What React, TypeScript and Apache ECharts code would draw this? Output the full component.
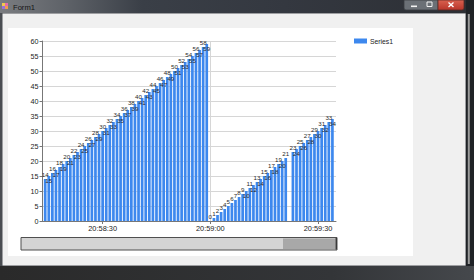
import React, { useEffect, useRef } from "react";
import * as echarts from "echarts";

// seconds after 20:58:00 for every bar
const seconds = [
  14, 15, 16, 17, 18, 19, 20, 21, 22, 23, 24, 25, 26, 27, 28, 29, 30, 31, 32, 33, 34, 35, 36,
  37, 38, 39, 40, 41, 42, 43, 44, 45, 46, 47, 48, 49, 50, 51, 52, 53, 54, 55, 56, 57, 58, 59,
  60, 61, 62, 63, 64, 65, 66, 67, 68, 69, 70, 71, 72, 73, 74, 75, 76, 77, 78, 79, 80, 81,
  83, 84, 85, 86, 87, 88, 89, 90, 91, 92, 93, 94,
];
const values = [
  14, 15, 16, 17, 18, 19, 20, 21, 22, 23, 24, 25, 26, 27, 28, 29, 30, 31, 32, 33, 34, 35, 36,
  37, 38, 39, 40, 41, 42, 43, 44, 45, 46, 47, 48, 49, 50, 51, 52, 53, 54, 55, 56, 57, 58, 59,
  0, 1, 2, 3, 4, 5, 6, 7, 8, 9, 10, 11, 12, 13, 14, 15, 16, 17, 18, 19, 20, 21,
  23, 24, 25, 26, 27, 28, 29, 30, 31, 32, 33, 34,
];
const xTickLabels = ["20:58:30", "20:59:00", "20:59:30"];
const seriesName = "Series1";
const xMinSec = 13.25;
const xMaxSec = 95;
const yMin = 0;
const yMax = 60;
const yInterval = 5;
const windowTitle = "Form1";

// x values are seconds after 20:58:00
const BASE_SEC = (20 * 60 + 58) * 60;
const pad = (n: number) => (n < 10 ? "0" + n : "" + n);
const toSec = (s: string) => {
  const [h, m, sec] = s.split(":").map(Number);
  return (h * 60 + m) * 60 + sec - BASE_SEC;
};
const fmt = (v: number) => {
  const t = Math.round(BASE_SEC + v);
  return pad(Math.floor(t / 3600)) + ":" + pad(Math.floor((t % 3600) / 60)) + ":" + pad(t % 60);
};

function labelPos(i: number): string {
  const v = values[i];
  if (seconds[i] < 60) return v % 2 === 0 ? "top" : "insideTop";
  return v < 10 || v % 2 === 1 ? "top" : "insideTop";
}

export default function App() {
  const ref = useRef<HTMLDivElement>(null);
  useEffect(() => {
    if (!ref.current) return;
    const chart = echarts.init(ref.current, undefined, { renderer: "svg" });
    const font = "Liberation Sans, Arial, sans-serif";
    const data = seconds.map((s, i) => {
      const pos = labelPos(i);
      return {
        value: [s, values[i]],
        label: { position: pos, distance: pos === "top" ? 1.5 : 1 },
      };
    });
    const tickVals = xTickLabels.map(toSec);
    const bg = (o: any) => ({ z: -10, ...o });
    chart.setOption({
      animation: false,
      textStyle: { fontFamily: font },
      grid: { left: 42.5, top: 41, width: 293.5, height: 180, containLabel: false },
      legend: {
        show: true,
        left: 354,
        top: 37.5,
        itemWidth: 13,
        itemHeight: 5,
        icon: "rect",
        padding: 0,
        textStyle: { fontSize: 6.8, color: "#222", fontFamily: font, padding: [0, 0, 0, -2] },
        data: [seriesName],
      },
      xAxis: {
        type: "value",
        min: xMinSec,
        max: xMaxSec,
        axisLine: { show: true, lineStyle: { color: "#777", width: 1 } },
        axisTick: { show: true, length: 3, customValues: tickVals, lineStyle: { color: "#777" } },
        axisLabel: {
          fontSize: 7.4,
          color: "#222",
          margin: 4,
          fontFamily: font,
          customValues: tickVals,
          hideOverlap: false,
          formatter: (val: number) => fmt(val),
        },
        splitLine: {
          show: true,
          showMinLine: false,
          showMaxLine: false,
          lineStyle: { color: "#d6d6d6", width: 1 },
        },
      },
      yAxis: {
        type: "value",
        min: yMin,
        max: yMax,
        interval: yInterval,
        axisLine: { show: true, lineStyle: { color: "#777", width: 1 } },
        axisTick: { show: true, length: 3, lineStyle: { color: "#777" } },
        axisLabel: { fontSize: 7.2, color: "#222", margin: 4, fontFamily: font },
        splitLine: { show: true, lineStyle: { color: "#d6d6d6", width: 1 } },
      },
      series: [
        {
          type: "bar",
          name: seriesName,
          data,
          barWidth: 2.7,
          itemStyle: { color: "#3d88ee" },
          label: {
            show: true,
            fontSize: 6.2,
            color: "#2a2a2a",
            fontFamily: font,
            formatter: (p: any) => String(p.value[1]),
          },
        },
      ],
      graphic: [
        bg({ type: "rect", shape: { x: 0, y: 0, width: 474, height: 280 }, style: { fill: "#2a2c30" } }),
        bg({
          type: "rect",
          shape: { x: 0, y: 0, width: 474, height: 14 },
          style: {
            fill: new echarts.graphic.LinearGradient(0, 0, 1, 0, [
              { offset: 0, color: "#7a7c80" },
              { offset: 0.14, color: "#5e6268" },
              { offset: 0.3, color: "#3a3f47" },
              { offset: 0.6, color: "#343840" },
              { offset: 1, color: "#2c2f34" },
            ]),
          },
        }),
        bg({ type: "rect", shape: { x: 0, y: 13, width: 467, height: 253 }, style: { fill: "#4a4d52" } }),
        bg({ type: "rect", shape: { x: 2.5, y: 13.5, width: 463, height: 252 }, style: { fill: "#f0f0f0" } }),
        bg({ type: "rect", shape: { x: 466, y: 0, width: 8, height: 280 }, style: { fill: "#1f2226" } }),
        bg({ type: "rect", shape: { x: 467.8, y: 14, width: 2, height: 250 }, style: { fill: "#9b9b9b" } }),
        bg({
          type: "rect",
          shape: { x: 0, y: 266, width: 474, height: 14 },
          style: {
            fill: new echarts.graphic.LinearGradient(0, 0, 1, 0, [
              { offset: 0, color: "#2a2a2a" },
              { offset: 0.7, color: "#333538" },
              { offset: 1, color: "#45484c" },
            ]),
          },
        }),
        bg({ type: "rect", shape: { x: 8, y: 28, width: 405, height: 228 }, style: { fill: "#ffffff" } }),
        bg({
          type: "rect",
          shape: { x: 21, y: 237.5, width: 316, height: 12.5 },
          style: { fill: "#d4d4d4", stroke: "#4f4f4f", lineWidth: 1 },
        }),
        bg({ type: "rect", shape: { x: 283, y: 238.5, width: 52.5, height: 10.5 }, style: { fill: "#a8a8a8" } }),
        bg({ type: "rect", shape: { x: 335.5, y: 238, width: 1.5, height: 11.5 }, style: { fill: "#3a3a3a" } }),
        bg({ type: "rect", shape: { x: 2, y: 3, width: 3, height: 3 }, style: { fill: "#f2c94c" } }),
        bg({ type: "rect", shape: { x: 5, y: 3, width: 3, height: 3 }, style: { fill: "#e86aa8" } }),
        bg({ type: "rect", shape: { x: 2, y: 6, width: 3, height: 3 }, style: { fill: "#9b72d9" } }),
        bg({ type: "rect", shape: { x: 5, y: 6, width: 3, height: 3 }, style: { fill: "#f29b4c" } }),
        {
          type: "text",
          z: 5,
          style: {
            text: windowTitle,
            x: 13,
            y: 7,
            fill: "#151515",
            fontSize: 7.6,
            fontFamily: "Liberation Sans, Arial, sans-serif",
            verticalAlign: "middle",
          },
        },
        bg({
          type: "rect",
          shape: { x: 404, y: 0, width: 34, height: 10, r: [0, 0, 0, 2] },
          style: { fill: "#6b7076", stroke: "#3a3d41", lineWidth: 0.8 },
        }),
        bg({ type: "rect", shape: { x: 411, y: 5.5, width: 6, height: 1.6 }, style: { fill: "#f2f2f2" } }),
        bg({
          type: "rect",
          shape: { x: 427, y: 2, width: 5, height: 4.5 },
          style: { fill: "none", stroke: "#f2f2f2", lineWidth: 1 },
        }),
        bg({
          type: "rect",
          shape: { x: 438, y: 0, width: 26, height: 10, r: [0, 0, 2, 0] },
          style: {
            fill: new echarts.graphic.LinearGradient(0, 0, 0, 1, [
              { offset: 0, color: "#d9614f" },
              { offset: 1, color: "#b8352a" },
            ]),
            stroke: "#5a2a25",
            lineWidth: 0.8,
          },
        }),
        bg({ type: "line", shape: { x1: 448.5, y1: 2.5, x2: 453.5, y2: 7 }, style: { stroke: "#ffffff", lineWidth: 1.4 } }),
        bg({ type: "line", shape: { x1: 453.5, y1: 2.5, x2: 448.5, y2: 7 }, style: { stroke: "#ffffff", lineWidth: 1.4 } }),
      ],
    });
    return () => chart.dispose();
  }, []);
  return (
    <div
      ref={ref}
      style={{ position: "absolute", left: 0, top: 0, width: 474, height: 280 }}
    />
  );
}
